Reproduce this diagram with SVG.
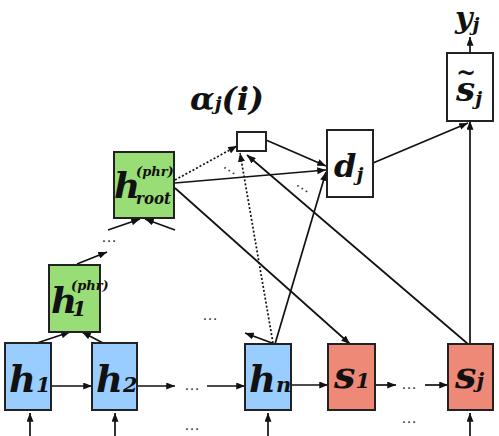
<svg xmlns="http://www.w3.org/2000/svg" width="499" height="436" viewBox="0 0 499 436">
<defs>
<marker id="ah" viewBox="0 0 10 8" refX="10" refY="4" markerWidth="9" markerHeight="7" markerUnits="userSpaceOnUse" orient="auto"><path d="M0,0 L10,4 L0,8 z" fill="#111"/></marker>
</defs>
<style>
.box{stroke:#222;stroke-width:2}
.blue{fill:#99CCFF}
.green{fill:#99DD77}
.red{fill:#EE8877}
.white{fill:#fff}
.t{font-family:"DejaVu Serif","Liberation Serif",serif;font-weight:bold;font-style:italic;fill:#111}
.c line{stroke:#111;stroke-width:1.7;marker-end:url(#ah)}
.c line.dot{stroke-dasharray:2,2}
.d{font-family:"Liberation Sans",sans-serif;font-size:16px;fill:#333}
</style>
<rect width="499" height="436" fill="#fff"/>
<g class="c" id="connectors">
<line x1="51" y1="386" x2="92" y2="386"/>
<line x1="137" y1="386" x2="175" y2="386"/>
<line x1="207" y1="386" x2="245" y2="386"/>
<line x1="291" y1="385" x2="328" y2="385"/>
<line x1="375" y1="385" x2="396" y2="385"/>
<line x1="425" y1="385" x2="448" y2="385"/>
<line x1="30" y1="436" x2="30" y2="413"/>
<line x1="115" y1="436" x2="115" y2="413"/>
<line x1="268" y1="436" x2="268" y2="413"/>
<line x1="470" y1="436" x2="470" y2="413"/>
<line x1="37" y1="343" x2="70" y2="332"/>
<line x1="103" y1="343" x2="82" y2="332"/>
<line x1="77" y1="264" x2="107" y2="252"/>
<line x1="108" y1="230" x2="140" y2="219"/>
<line x1="175" y1="230" x2="145" y2="219"/>
<line class="dot" x1="175" y1="180" x2="237" y2="146"/>
<line x1="175" y1="183" x2="326" y2="170"/>
<line x1="175" y1="188" x2="350" y2="344"/>
<line x1="266" y1="140" x2="326" y2="166"/>
<line class="dot" x1="273" y1="343" x2="240" y2="153"/>
<line x1="275" y1="344" x2="326" y2="172"/>
<line x1="272" y1="343" x2="245" y2="333"/>
<line x1="468" y1="344" x2="247" y2="155"/>
<line x1="470" y1="344" x2="470" y2="121"/>
<line x1="373" y1="163" x2="468" y2="123"/>
<line x1="470" y1="53" x2="470" y2="37"/>
</g>
<g id="dots">
<text class="d" x="184" y="390">…</text>
<text class="d" x="184" y="430">…</text>
<text class="d" x="202" y="320">…</text>
<text class="d" x="101" y="242">…</text>
<text class="d" x="401" y="389">…</text>
<text class="d" x="401" y="423">…</text>
<text class="d" transform="translate(222,167) rotate(33)">…</text>
<text class="d" transform="translate(295,185) rotate(33)">…</text>
</g>
<g id="h1"><rect class="box blue" x="5" y="343" width="46" height="67"/><text class="t" x="9" y="392" font-size="37">h<tspan font-size="21">1</tspan></text></g>
<g id="h2"><rect class="box blue" x="92" y="343" width="45" height="67"/><text class="t" x="96" y="392" font-size="37">h<tspan font-size="21">2</tspan></text></g>
<g id="hn"><rect class="box blue" x="245" y="344" width="46" height="66"/><text class="t" x="249" y="392" font-size="37">h<tspan font-size="21">n</tspan></text></g>
<g id="s1"><rect class="box red" x="328" y="344" width="47" height="66"/><text class="t" x="334" y="388" font-size="38">s<tspan font-size="21">1</tspan></text></g>
<g id="sj"><rect class="box red" x="448" y="344" width="45" height="66"/><text class="t" x="455" y="388" font-size="38">s<tspan font-size="21">j</tspan></text></g>
<g id="h1phr"><rect class="box green" x="49" y="265" width="51" height="67"/><text class="t" x="51" y="313" font-size="36">h<tspan x="71" y="290" font-size="13">(phr)</tspan><tspan x="72" y="316" font-size="21">1</tspan></text></g>
<g id="hroot"><rect class="box green" x="114" y="152" width="60" height="66"/><text class="t" x="114" y="198" font-size="36">h<tspan x="136" y="176" font-size="13">(phr)</tspan><tspan x="136" y="204" font-size="17" textLength="35" lengthAdjust="spacingAndGlyphs">root</tspan></text></g>
<g id="alpha"><rect class="box white" x="237" y="132" width="29" height="19"/><text class="t" x="190" y="110" font-size="32">α<tspan font-size="19">j</tspan>(i)</text></g>
<g id="dj"><rect class="box white" x="327" y="130" width="46" height="67"/><text class="t" x="334" y="177" font-size="32">d<tspan font-size="19" dy="4">j</tspan></text></g>
<g id="stilde"><rect class="box white" x="447" y="53" width="46" height="68"/><text class="t" x="456" y="101" font-size="34">s<tspan font-size="19" dy="4">j</tspan><tspan x="456" y="80" font-size="24">~</tspan></text></g>
<g id="yj"><text class="t" x="455" y="28" font-size="30">y<tspan font-size="19" dy="3">j</tspan></text></g>
</svg>
